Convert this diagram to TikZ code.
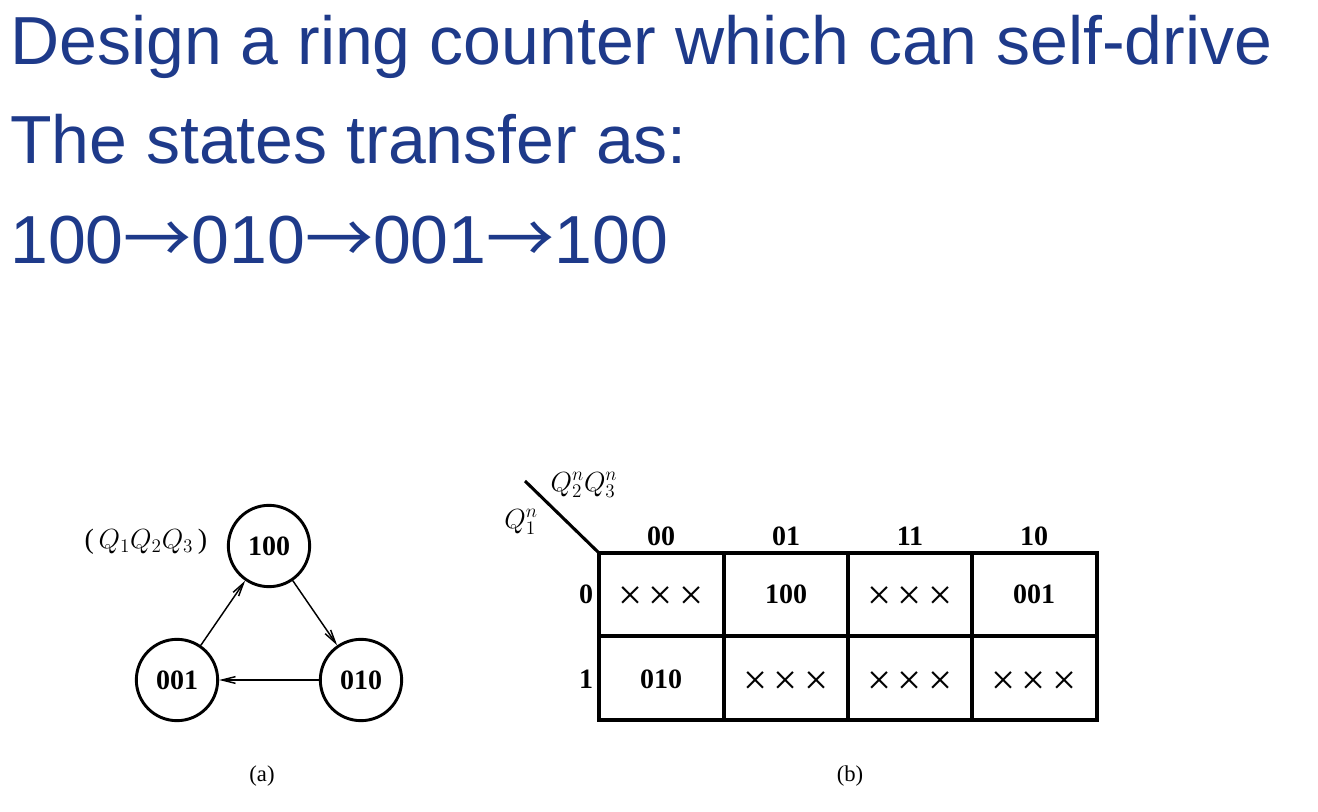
\documentclass[tikz,border=0pt]{standalone}
\usepackage{fontspec}
\setmainfont{Liberation Serif}
\newfontfamily\titlefont{Liberation Sans}
\newfontfamily\cjk{Noto Sans CJK SC}
\usetikzlibrary{arrows.meta}
\definecolor{titleblue}{RGB}{30,58,138}

\tikzset{
  title/.style={anchor=base west, inner sep=0, text=titleblue,
    font=\titlefont\fontsize{51}{61}\selectfont},
  state/.style={draw, circle, line width=2.2pt, minimum size=61pt, inner sep=0,
    font=\bfseries\fontsize{21}{24}\selectfont},
  trans/.style={line width=1.1pt, -{Straight Barb[length=10pt,width=5pt]}},
  kbox/.style={line width=2.3pt},
  kval/.style={font=\bfseries\fontsize{21}{24}\selectfont},
  dc/.style={font=\fontsize{32}{36}\selectfont, yshift=-3pt},
  qlabel/.style={font=\fontsize{21}{24}\selectfont},
  caption/.style={font=\fontsize{17}{20}\selectfont}
}
\newcommand{\dcare}{×\hspace{5pt}×\hspace{5pt}×}
\newcommand{\nxt}{{\cjk →}}

\begin{document}
\begin{tikzpicture}[x=0.75pt, y=-0.75pt]
  \useasboundingbox (0,0) rectangle (1318,812);

  % title lines
  \node[title] (line1) at (10,65) {Design a ring counter which can self-drive};
  \node[title] (line2) at (10,164) {The states transfer as:};
  \node[title] (line3) at (10,264) {100\nxt010\nxt001\nxt100};

  % (a) state diagram
  \node[state] (s100) at (269,546) {100};
  \node[state] (s001) at (177,680) {001};
  \node[state] (s010) at (361,680) {010};
  \node[qlabel] (order) at (146,542) {(\,$Q_1Q_2Q_3$\,)};

  \draw[trans] (s001) -- (s100);
  \draw[trans] (s100) -- (s010);
  \draw[trans] (s010) -- (s001);

  % (b) karnaugh map corners
  \coordinate (k0) at (599,553); % top left
  \coordinate (k1) at (1097,553);
  \coordinate (k2) at (1097,720);
  \coordinate (k3) at (599,720);
  \coordinate (d0) at (525,481); % end of diagonal

  % outer box and grid
  \draw[kbox] (k0) -- (k1) -- (k2) -- (k3) -- cycle;
  \draw[kbox] (599,636) -- (1097,636);
  \draw[kbox] (724,553) -- (724,720);
  \draw[kbox] (848,553) -- (848,720);
  \draw[kbox] (972,553) -- (972,720);
  % corner diagonal
  \draw[kbox] (d0) -- (k0);

  \node[qlabel] (q23) at (584,485) {$Q_2^nQ_3^n$};
  \node[qlabel] (q1) at (521,522) {$Q_1^n$};

  % column and row heads
  \node[kval] (c00) at (661,536) {00};
  \node[kval] (c01) at (786,536) {01};
  \node[kval] (c11) at (910,536) {11};
  \node[kval] (c10) at (1034,536) {10};
  \node[kval] (r0) at (586,594) {0};
  \node[kval] (r1) at (586,679) {1};

  % cells
  \node[dc] (m00) at (661,594) {\dcare};
  \node[kval] (m01) at (786,594) {100};
  \node[dc] (m03) at (910,594) {\dcare};
  \node[kval] (m02) at (1034,594) {001};
  \node[kval] (m10) at (661,679) {010};
  \node[dc] (m11) at (786,679) {\dcare};
  \node[dc] (m13) at (910,679) {\dcare};
  \node[dc] (m12) at (1034,679) {\dcare};

  \node[caption] (capa) at (262,776) {(a)};
  \node[caption] (capb) at (850,776) {(b)};
\end{tikzpicture}
\end{document}
